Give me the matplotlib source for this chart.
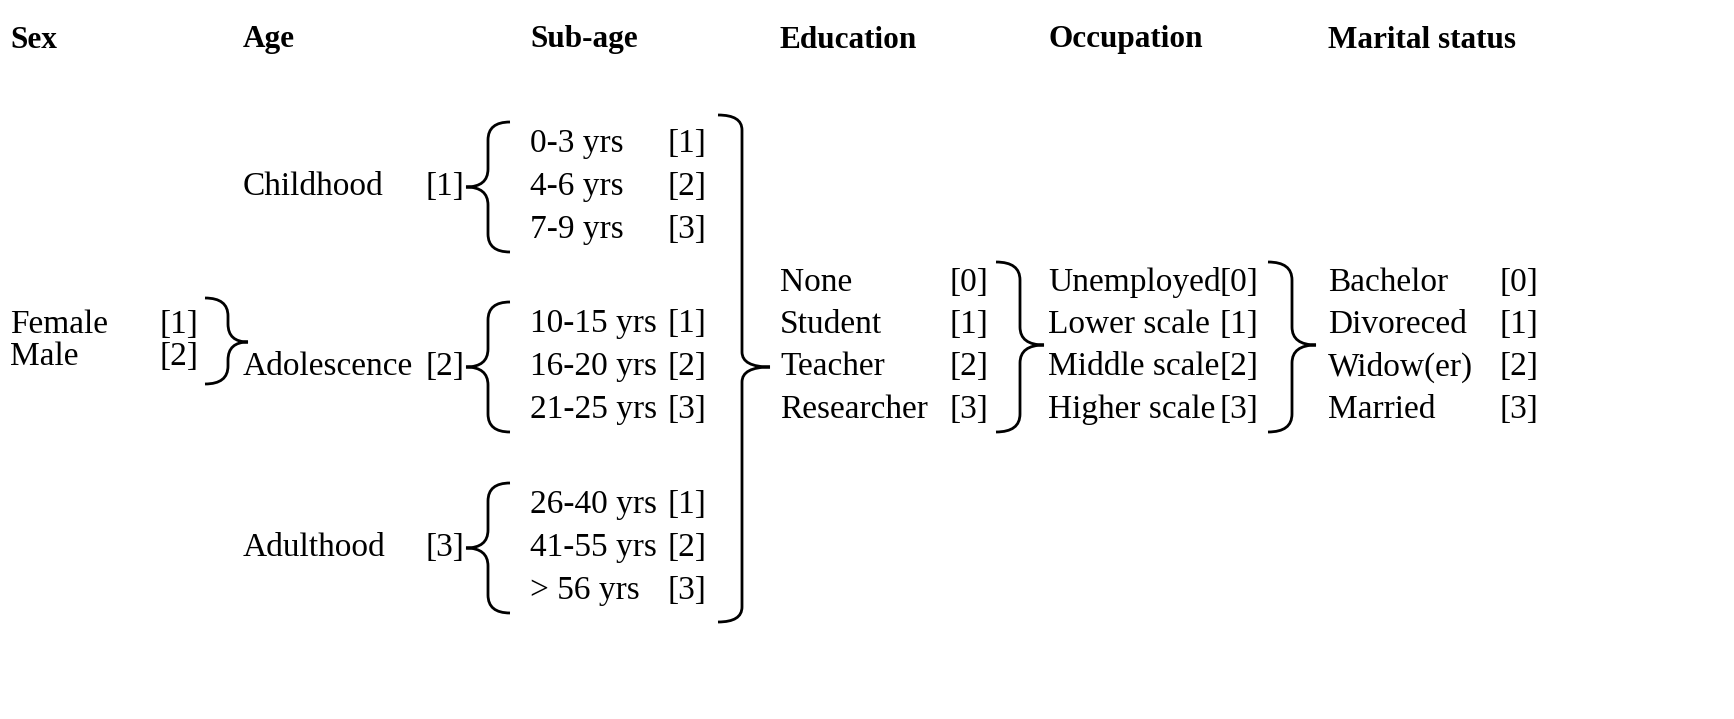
import matplotlib
matplotlib.use("Agg")
import matplotlib.pyplot as plt
from matplotlib.path import Path
from matplotlib.patches import PathPatch

headers = ["Sex", "Age", "Sub-age", "Education", "Occupation", "Marital status"]
header_x = [10, 243, 530, 780, 1048, 1328]
sex = ["Female", "Male"]; sex_codes = ["[1]", "[2]"]
ages = ["Childhood", "Adolescence", "Adulthood"]; age_codes = ["[1]", "[2]", "[3]"]
subages = [["0-3 yrs", "4-6 yrs", "7-9 yrs"],
           ["10-15 yrs", "16-20 yrs", "21-25 yrs"],
           ["26-40 yrs", "41-55 yrs", "> 56 yrs"]]
sub_codes = ["[1]", "[2]", "[3]"]
education = ["None", "Student", "Teacher", "Researcher"]
occupation = ["Unemployed", "Lower scale", "Middle scale", "Higher scale"]
marital = ["Bachelor", "Divoreced", "Widow(er)", "Married"]
codes4 = ["[0]", "[1]", "[2]", "[3]"]

fig = plt.figure(figsize=(17.34, 7.19), dpi=100)
ax = fig.add_axes([0, 0, 1, 1])
ax.set_xlim(0, 1734); ax.set_ylim(719, 0); ax.axis("off")
FS = 24
kw = dict(family="Liberation Serif", fontsize=FS, va="center", ha="left")

for h, x in zip(headers, header_x):
    ax.text(x, 40, h, fontweight="bold", **{**kw, "fontsize": 22.5})

for i, (s, c) in enumerate(zip(sex, sex_codes)):
    y = 325 + 32 * i
    ax.text(10, y, s, **kw); ax.text(160, y, c, **kw)

age_y = [187, 367, 548]
for g, (a, c) in enumerate(zip(ages, age_codes)):
    ax.text(243, age_y[g], a, **kw); ax.text(425, age_y[g], c, **kw)
    for j, (s, sc) in enumerate(zip(subages[g], sub_codes)):
        y = age_y[g] + (j - 1) * 43
        ax.text(530, y, s, **kw); ax.text(668, y, sc, **kw)

rows4 = [283, 325, 367, 410]
for items, x, cx in [(education, 780, 950), (occupation, 1048, 1220), (marital, 1328, 1500)]:
    for y, t, c in zip(rows4, items, codes4):
        ax.text(x, y, t, **kw); ax.text(cx, y, c, **kw)

def brace(xo, xm, xt, y0, ymid, y1, r=18):
    verts = [(xo, y0), (xm, y0), (xm, y0 + r),
             (xm, ymid - r), (xm, ymid), (xt, ymid),
             (xm, ymid), (xm, ymid + r),
             (xm, y1 - r), (xm, y1), (xo, y1)]
    codes = [Path.MOVETO, Path.CURVE3, Path.CURVE3,
             Path.LINETO, Path.CURVE3, Path.CURVE3,
             Path.CURVE3, Path.CURVE3,
             Path.LINETO, Path.CURVE3, Path.CURVE3]
    ax.add_patch(PathPatch(Path(verts, codes), fill=False, lw=2, color="black"))

brace(205, 228, 248, 298, 342, 384)
for y in age_y:
    brace(510, 488, 466, y - 65, y, y + 65)
brace(718, 742, 770, 115, 367, 622, r=15)
brace(996, 1020, 1044, 262, 345, 432)
brace(1268, 1292, 1316, 262, 345, 432)

fig.savefig("out.png", dpi=100)
